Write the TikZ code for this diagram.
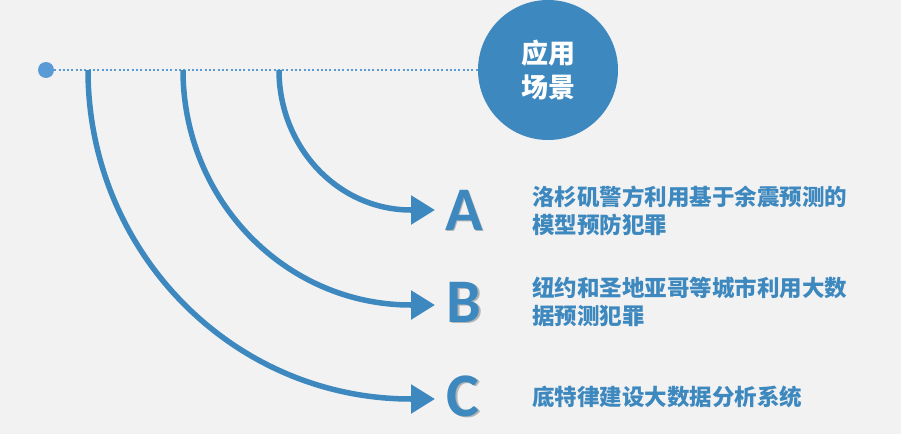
\documentclass[tikz,border=0pt]{standalone}
\usepackage{fontspec}
\newfontfamily\cjk{Noto Sans CJK SC}
\newfontfamily\latinb{Carlito}
\usetikzlibrary{arrows.meta}
\definecolor{bg}{HTML}{F2F2F2}
\definecolor{mainblue}{HTML}{3D88BE}
\definecolor{dotblue}{HTML}{5B9BD5}
\tikzset{
  curve/.style={draw=mainblue, line width=5.5pt},
  tip/.style={draw=mainblue, line width=5.5pt, -{Triangle[length=24pt,width=28pt]}},
  letter/.style={text=mainblue, font=\latinb\bfseries\fontsize{62}{62}\selectfont, inner sep=0pt},
  lshadow/.style={text=black!45, opacity=0.6, font=\latinb\bfseries\fontsize{62}{62}\selectfont, inner sep=0pt},
  desc/.style={text=mainblue, font=\cjk\bfseries\fontsize{22.5}{28}\selectfont, inner sep=0pt, anchor=base west, align=left},
}
\begin{document}
\begin{tikzpicture}[x=1pt,y=1pt]
\fill[bg] (0,0) rectangle (901,-434);
\useasboundingbox (0,0) rectangle (901,-434);
% title circle
\node[circle, fill=mainblue, minimum size=140pt, inner sep=0pt, text=white,
      font=\cjk\bfseries\fontsize{27}{34}\selectfont, align=center] (title) at (548,-70) {应用\\场景};
% dot and dotted line
\node[circle, fill=dotblue, minimum size=16pt, inner sep=0pt] (dot) at (46,-70) {};
\draw[dotblue, line width=2pt, dash pattern=on 2pt off 2.3pt] (dot.east) -- (title.west);
% start coordinates of curves
\coordinate (sA) at (279,-70);
\coordinate (sB) at (183,-70);
\coordinate (sC) at (88,-70);
% letters
\node[lshadow] at (465.5,-211.5) {A};
\node[letter] (A) at (464,-210) {A};
\node[lshadow] at (465.5,-303.5) {B};
\node[letter] (B) at (464,-302) {B};
\node[lshadow] at (464.5,-397.5) {C};
\node[letter] (C) at (463,-396) {C};
% arrow tip points
\coordinate (tA) at (435,-210);
\coordinate (tB) at (435,-305);
\coordinate (tC) at (435,-399);
% curves
\draw[curve] (sA) arc[start angle=180, end angle=270, x radius=132, y radius=140] coordinate (eA);
\draw[curve] (sB) arc[start angle=180, end angle=270, x radius=228, y radius=235] coordinate (eB);
\draw[curve] (sC) arc[start angle=180, end angle=270, x radius=323, y radius=329] coordinate (eC);
\draw[tip] ([xshift=-1pt]eA) -- (tA);
\draw[tip] ([xshift=-1pt]eB) -- (tB);
\draw[tip] ([xshift=-1pt]eC) -- (tC);
% descriptions
\node[desc] (dA) at (532,-233.5) {洛杉矶警方利用基于余震预测的\\模型预防犯罪};
\node[desc] (dB) at (532,-324.5) {纽约和圣地亚哥等城市利用大数\\据预测犯罪};
\node[desc] (dC) at (532,-405.5) {底特律建设大数据分析系统};
\end{tikzpicture}
\end{document}
